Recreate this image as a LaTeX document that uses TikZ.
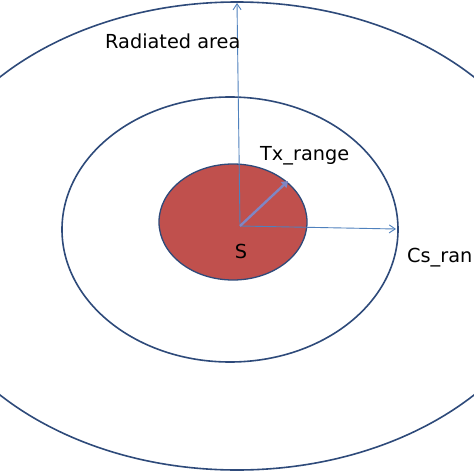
\documentclass[tikz,border=0pt]{standalone}
\usepackage{fontspec}
\setmainfont{DejaVu Sans}
\usetikzlibrary{arrows.meta}
\definecolor{rim}{HTML}{2E4A7A}
\definecolor{fillred}{HTML}{C0504D}
\definecolor{arrowblue}{HTML}{4F81BD}
\definecolor{diagblue}{HTML}{7F86C4}
\tikzset{
  ring/.style={draw=rim, line width=1.6pt},
  rayline/.style={draw=arrowblue, line width=0.9pt, -{Straight Barb[length=6pt,width=8pt]}},
  diagray/.style={draw=diagblue, line width=2.4pt, -{Triangle[length=6pt,width=8pt]}},
  lbl/.style={font=\fontsize{19.3}{21}\selectfont, text=black, inner sep=0pt}
}
\begin{document}
\begin{tikzpicture}[x=1pt,y=-1pt]
\useasboundingbox (0,0) rectangle (474,474);
\clip (0,0) rectangle (474,474);
\fill[white] (0,0) rectangle (474,474);
% outer and middle rings
\draw[ring] (237,236) ellipse [x radius=323, y radius=234];
\draw[ring] (230,229.5) ellipse [x radius=168, y radius=132.5];
% inner station
\draw[ring, fill=fillred, line width=1.3pt] (233,222) ellipse [x radius=74, y radius=58];
% coordinates
\coordinate (c) at (240,226);
\coordinate (top) at (237,3);
\coordinate (cs) at (396,229);
\coordinate (tx) at (288,181);
% rays
\draw[rayline] (c) -- (top);
\draw[rayline] (c) -- (cs);
\draw[diagray] (c) -- (tx);
% labels
\node[lbl, anchor=west] (rad) at (105,41) {Radiated area};
\node[lbl, anchor=west] (txl) at (260,156) {Tx\_range};
\node[lbl, anchor=west] (csl) at (407,258) {Cs\_ran};
\node[lbl] (s) at (241,251) {S};
\end{tikzpicture}
\end{document}
